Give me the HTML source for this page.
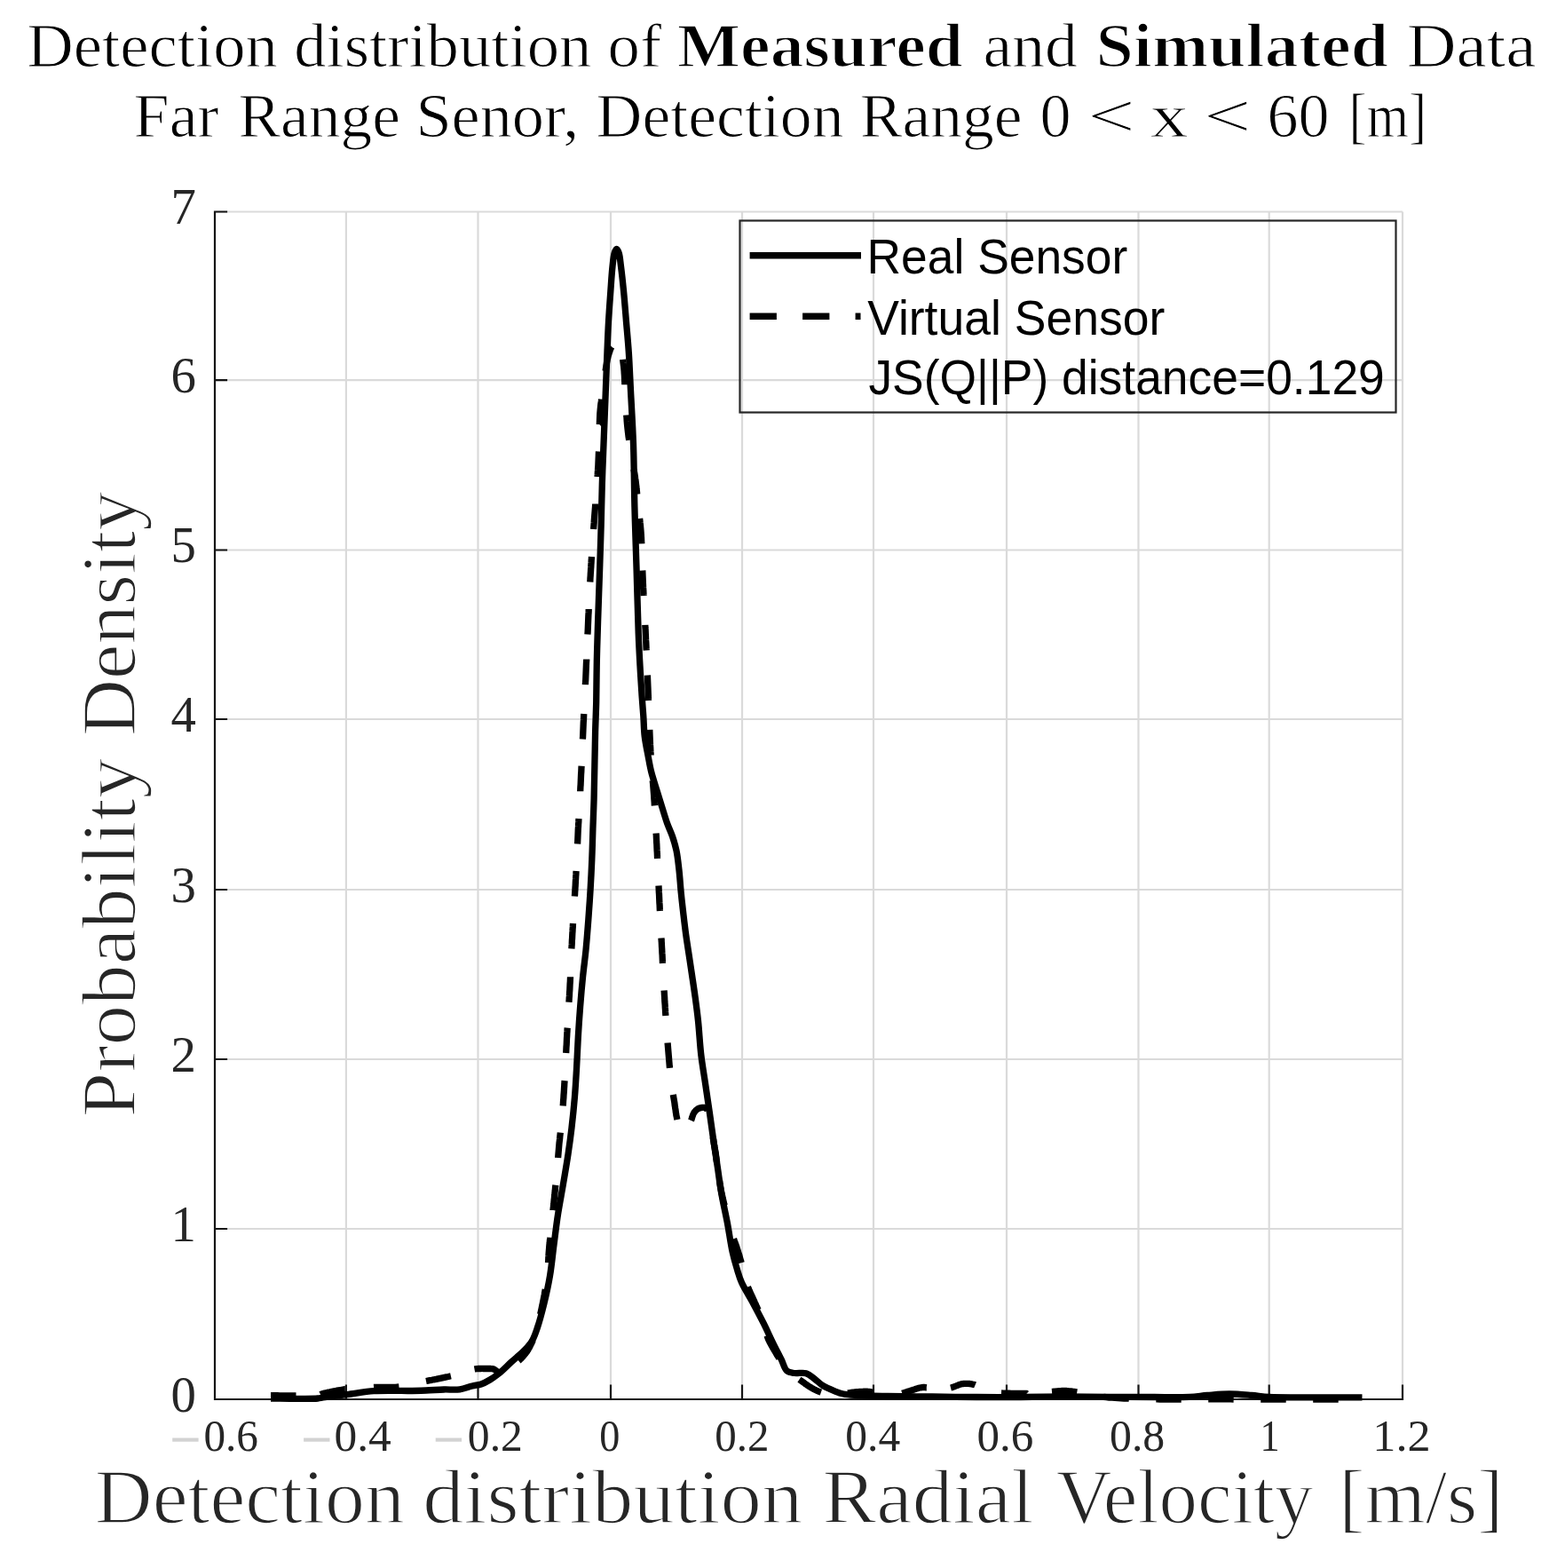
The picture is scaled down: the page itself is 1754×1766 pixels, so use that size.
<!DOCTYPE html><html><head><meta charset="utf-8"><title>Detection distribution</title><style>html,body{margin:0;padding:0;background:#fff;overflow:hidden}svg{display:block}</style></head><body>
<svg width="1754" height="1766" viewBox="0 0 1754 1766">
<rect width="1754" height="1766" fill="#fff"/>
<path d="M389.9 238.5V1576.0M538.5 238.5V1576.0M688.0 238.5V1576.0M836.0 238.5V1576.0M984.0 238.5V1576.0M1134.0 238.5V1576.0M1282.5 238.5V1576.0M1429.7 238.5V1576.0M1580.0 238.5V1576.0M242.0 1384.0H1580.0M242.0 1193.0H1580.0M242.0 1002.0H1580.0M242.0 810.0H1580.0M242.0 619.5H1580.0M242.0 428.1H1580.0M242.0 238.5H1580.0" stroke="#262626" stroke-opacity="0.17" stroke-width="2.2" fill="none"/>
<path d="M242.0 238.5V1576.0H1580.0M242.0 1576.0V1560.5M389.9 1576.0V1560.5M538.5 1576.0V1560.5M688.0 1576.0V1560.5M836.0 1576.0V1560.5M984.0 1576.0V1560.5M1134.0 1576.0V1560.5M1282.5 1576.0V1560.5M1429.7 1576.0V1560.5M1580.0 1576.0V1560.5M242.0 1576.0H255M242.0 1384.0H255M242.0 1193.0H255M242.0 1002.0H255M242.0 810.0H255M242.0 619.5H255M242.0 428.1H255M242.0 238.5H255" stroke="#151515" stroke-width="2.2" fill="none" stroke-linecap="square"/>
<path d="M305.0,1571.7L307.5,1571.7 310.0,1571.7 312.6,1571.7 315.1,1571.8 317.7,1571.8 320.2,1571.8 322.8,1571.8 325.3,1571.8 327.8,1571.8 330.2,1571.8 332.6,1571.8 333.5,1571.8M360.9,1570.6L361.0,1570.6 361.4,1570.4 361.8,1570.2 362.3,1570.1 362.8,1569.9 363.4,1569.7 364.0,1569.5 365.6,1569.1 367.3,1568.7 369.3,1568.2 371.5,1567.8 373.8,1567.3 376.2,1566.8 378.6,1566.4 381.2,1565.9 383.7,1565.5 386.2,1565.1 388.6,1564.7 388.8,1564.7M421.0,1562.5L421.0,1562.5 423.4,1562.4 425.9,1562.4 428.4,1562.4 431.0,1562.4 433.5,1562.5 436.0,1562.5 438.4,1562.5 440.8,1562.5 443.2,1562.5 445.5,1562.4 447.6,1562.2 449.5,1562.0M480.0,1555.5L482.0,1555.1 484.2,1554.7 486.4,1554.3 488.8,1553.8 491.2,1553.4 493.6,1552.9 496.0,1552.4 498.4,1551.9 500.7,1551.4 502.9,1550.9 505.0,1550.5 507.0,1550.0 507.9,1549.8M534.5,1542.0L534.5,1542.0 535.6,1541.8 536.8,1541.7 537.9,1541.6 539.1,1541.5 540.3,1541.5 541.5,1541.5 542.6,1541.4 543.8,1541.4 544.9,1541.5 546.0,1541.5 547.0,1541.5 548.0,1541.5 548.7,1541.5 549.5,1541.5 550.2,1541.5 550.9,1541.5 551.6,1541.5 552.2,1541.5 552.9,1541.5 553.5,1541.6 554.2,1541.6 554.8,1541.7 555.4,1541.8 556.0,1542.0 556.5,1542.2 557.1,1542.5 557.6,1542.8 558.1,1543.2 558.5,1543.5 559.0,1543.9 559.5,1544.3 560.0,1544.6 560.4,1544.9 560.9,1545.2 561.5,1545.4 561.9,1545.5M584.2,1532.6L584.8,1532.1 585.5,1531.5 586.1,1530.9 586.8,1530.3 587.4,1529.6 588.0,1529.0 588.6,1528.3 589.3,1527.6 589.9,1526.9 590.5,1526.2 591.1,1525.5 591.6,1524.8 592.2,1524.1 592.8,1523.3 593.4,1522.5 593.9,1521.7 594.5,1520.9 595.0,1520.0 595.6,1518.9 596.3,1517.8 596.9,1516.6 597.5,1515.4 598.1,1514.2 598.7,1513.0 599.3,1511.7 599.9,1510.4 600.3,1509.4M608.7,1480.1L608.8,1479.4 609.3,1477.5 609.7,1475.6 610.1,1473.7 610.5,1471.7 610.9,1469.8 611.3,1467.9 611.7,1465.9 612.1,1464.0 612.5,1462.0 612.9,1460.0 613.3,1457.9 613.6,1455.9 614.0,1453.8 614.3,1452.2M617.6,1422.1L617.7,1419.6 617.8,1417.1 618.0,1414.5 618.1,1412.0 618.3,1409.5 618.5,1407.0 618.7,1404.6 618.9,1402.1 619.2,1399.7 619.4,1397.3 619.7,1394.9 619.8,1393.7M623.0,1363.1L623.0,1363.0 623.3,1360.5 623.5,1358.0 623.8,1355.5 624.0,1353.0 624.3,1350.5 624.5,1348.0 624.8,1345.5 625.0,1343.0 625.3,1340.5 625.5,1338.0 625.8,1335.4 625.9,1334.7M628.6,1304.0L628.6,1304.0 628.8,1301.7 629.0,1299.4 629.2,1297.0 629.4,1294.7 629.6,1292.4 629.8,1290.0 630.0,1287.5 630.3,1285.1 630.6,1282.6 630.8,1280.1 631.1,1277.5 631.3,1275.7M634.2,1245.5L634.4,1243.1 634.5,1240.7 634.7,1238.3 634.9,1235.9 635.0,1233.4 635.2,1231.0 635.4,1228.4 635.5,1225.9 635.7,1223.3 635.8,1220.7 636.0,1218.1 636.1,1217.1M637.7,1186.0L637.8,1183.7 637.9,1181.4 638.0,1179.1 638.2,1176.8 638.3,1174.4 638.4,1172.0 638.5,1169.4 638.7,1166.8 638.8,1164.1 639.0,1161.4 639.1,1158.7 639.2,1157.6M640.9,1128.7L640.9,1128.7 641.1,1126.4 641.2,1124.2 641.4,1122.0 641.5,1119.8 641.6,1117.6 641.8,1115.3 641.9,1113.0 642.0,1110.6 642.1,1108.1 642.3,1105.6 642.4,1103.1 642.5,1100.6 642.5,1100.2M643.9,1068.5L644.0,1066.1 644.2,1063.7 644.3,1061.3 644.4,1058.9 644.6,1056.4 644.7,1054.0 644.8,1051.5 645.0,1049.0 645.1,1046.5 645.3,1044.0 645.4,1041.5 645.5,1040.0M647.4,1009.5L647.6,1007.1 647.7,1004.7 647.9,1002.3 648.0,999.9 648.2,997.4 648.3,995.0 648.4,992.5 648.6,990.0 648.7,987.5 648.9,985.0 649.0,982.5 649.1,981.0M650.6,950.5L650.7,948.1 650.8,945.7 650.9,943.3 651.0,940.9 651.1,938.4 651.2,936.0 651.3,933.5 651.5,931.0 651.6,928.5 651.8,926.0 651.9,923.5 652.0,922.0M653.7,891.3L653.7,891.2 653.8,888.8 653.9,886.3 654.1,883.9 654.2,881.4 654.3,879.0 654.4,876.5 654.5,874.0 654.6,871.6 654.8,869.1 654.9,866.7 655.0,864.2 655.1,862.8M656.4,832.5L656.4,832.5 656.6,830.1 656.7,827.7 656.8,825.3 656.9,822.9 657.0,820.4 657.1,818.0 657.2,815.5 657.3,813.0 657.5,810.5 657.6,808.0 657.7,805.5 657.8,804.1M659.4,771.1L659.5,768.7 659.7,766.3 659.8,763.9 659.9,761.4 660.0,759.0 660.1,756.5 660.2,754.0 660.3,751.5 660.4,749.0 660.5,746.5 660.7,744.0 660.7,742.6M661.9,714.5L661.9,714.5 662.1,712.1 662.2,709.7 662.3,707.3 662.4,704.9 662.5,702.4 662.6,700.0 662.7,697.5 662.8,695.0 662.9,692.5 663.1,690.0 663.2,687.5 663.2,686.1M664.8,655.5L664.8,655.5 664.9,653.1 665.0,650.7 665.2,648.3 665.3,645.9 665.5,643.4 665.6,641.0 665.8,638.5 665.9,636.0 666.1,633.5 666.2,631.0 666.4,628.5 666.5,627.1M668.6,596.0L668.6,596.0 668.8,593.5 669.0,591.0 669.2,588.5 669.3,586.0 669.5,583.5 669.7,581.0 669.9,578.5 670.1,576.0 670.3,573.5 670.5,571.0 670.7,568.4 670.7,567.6M673.0,537.0L673.0,537.0 673.2,534.7 673.3,532.4 673.5,530.0 673.6,527.7 673.8,525.4 673.9,523.0 674.0,520.5 674.1,518.1 674.2,515.6 674.3,513.1 674.4,510.6 674.5,508.5M675.3,478.1L675.4,478.0 675.4,475.5 675.5,473.1 675.6,470.6 675.7,468.2 675.8,465.8 676.0,463.5 676.2,461.4 676.4,459.4 676.6,457.4 676.8,455.4 677.1,453.5 677.4,451.5 677.6,449.7M682.0,418.0L682.3,416.4 682.5,414.8 682.8,413.2 683.0,411.6 683.3,410.1 683.5,408.5 683.8,407.0 684.1,405.5 684.4,404.1 684.8,402.6 685.1,401.3 685.5,400.0 685.8,399.0 686.1,398.0 686.4,396.9 686.8,395.9 687.1,394.9 687.4,393.9 687.8,393.0 688.2,392.2 688.6,391.5 689.0,390.8 689.2,390.6M701.6,404.9L701.7,406.0 701.9,407.1 702.0,408.3 702.2,409.5 702.3,410.7 702.5,412.0 702.7,413.9 702.9,416.0 703.1,418.1 703.2,420.3 703.4,422.6 703.5,425.0 703.6,427.4 703.7,429.9 703.8,432.4 703.8,433.3M705.7,467.5L705.7,467.5 706.0,471.0 706.2,474.5 706.5,477.8 706.8,481.0 707.1,483.7 707.4,486.3 707.7,488.8 708.0,491.4 708.4,493.8 708.7,495.8M714.0,528.5L714.0,528.5 714.4,531.0 714.9,533.5 715.3,536.0 715.6,538.5 716.0,541.0 716.3,543.4 716.6,545.9 716.9,548.3 717.1,550.7 717.4,553.1 717.6,555.6 717.7,556.7M720.6,584.0L720.9,586.3 721.1,588.6 721.4,590.9 721.6,593.3 721.8,595.6 722.0,598.0 722.2,600.5 722.3,602.9 722.5,605.4 722.6,607.9 722.7,610.4 722.8,612.4M723.8,642.5L723.8,642.5 723.9,644.9 724.0,647.3 724.1,649.7 724.2,652.1 724.3,654.6 724.4,657.0 724.5,659.5 724.6,662.0 724.8,664.5 724.9,667.0 725.0,669.5 725.1,670.9M726.8,703.9L726.8,703.9 726.9,706.3 727.1,708.7 727.2,711.1 727.3,713.6 727.4,716.0 727.5,718.5 727.6,721.0 727.8,723.5 727.9,726.0 728.0,728.5 728.1,731.0 728.2,732.4M729.4,760.5L729.5,762.9 729.6,765.3 729.7,767.7 729.8,770.1 729.9,772.6 730.0,775.0 730.1,777.5 730.2,780.0 730.3,782.5 730.4,785.0 730.5,787.5 730.6,789.0M731.8,821.9L731.8,821.9 731.9,824.3 732.0,826.7 732.1,829.1 732.2,831.6 732.3,834.0 732.4,836.5 732.5,839.0 732.7,841.5 732.8,844.0 732.9,846.5 733.1,849.0 733.1,850.4M735.2,879.0L735.2,879.0 735.5,881.5 735.7,884.0 735.9,886.5 736.1,889.0 736.3,891.5 736.5,894.0 736.7,896.5 736.8,899.0 737.0,901.5 737.2,904.0 737.3,906.5 737.4,907.4M739.1,938.5L739.3,940.9 739.4,943.3 739.5,945.7 739.6,948.1 739.8,950.6 739.9,953.0 740.0,955.5 740.1,958.0 740.3,960.5 740.4,963.0 740.5,965.5 740.6,967.0M742.0,997.5L742.0,997.5 742.1,999.9 742.2,1002.3 742.3,1004.7 742.5,1007.1 742.6,1009.6 742.7,1012.0 742.8,1014.5 742.9,1017.0 743.1,1019.5 743.2,1022.0 743.3,1024.5 743.4,1025.9M745.0,1056.5L745.1,1058.9 745.3,1061.3 745.4,1063.7 745.5,1066.1 745.7,1068.6 745.8,1071.0 745.9,1073.5 746.1,1076.0 746.2,1078.5 746.3,1081.0 746.4,1083.5 746.5,1085.0M748.1,1115.5L748.3,1117.9 748.4,1120.3 748.6,1122.7 748.7,1125.1 748.8,1127.6 749.0,1130.0 749.2,1132.5 749.3,1135.0 749.5,1137.5 749.6,1140.0 749.8,1142.5 749.9,1144.0M752.1,1174.5L752.1,1174.5 752.3,1176.9 752.5,1179.4 752.7,1181.8 752.9,1184.2 753.1,1186.6 753.3,1189.0 753.5,1191.4 753.7,1193.9 753.9,1196.3 754.1,1198.8 754.3,1201.3 754.5,1202.9M758.3,1232.9L758.6,1234.7 758.9,1236.5 759.2,1238.2 759.5,1240.0 759.8,1241.6 760.0,1243.3 760.2,1245.0 760.5,1246.6 760.7,1248.3 761.0,1249.9 761.2,1251.5 761.4,1253.1 761.7,1254.7 761.9,1256.2 762.2,1257.6 762.5,1259.0 762.7,1260.0 762.9,1261.0M778.5,1262.0L778.5,1262.0 778.8,1261.3 779.1,1260.5 779.3,1259.7 779.6,1258.9 779.8,1258.1 780.1,1257.3 780.4,1256.5 780.6,1255.8 780.9,1255.0 781.3,1254.3 781.6,1253.6 782.0,1253.0 782.3,1252.5 782.7,1252.0 783.1,1251.6 783.4,1251.2 783.8,1250.7 784.2,1250.3 784.7,1250.0 785.1,1249.6 785.5,1249.3 786.0,1249.0 786.5,1248.7 787.0,1248.5 787.6,1248.3 788.2,1248.0 788.9,1247.8 789.6,1247.7 790.3,1247.5 791.0,1247.4 791.8,1247.3 792.5,1247.3 793.2,1247.4 793.8,1247.5 794.4,1247.7 795.0,1248.0 795.7,1248.6 796.3,1249.3 796.9,1250.2 797.2,1250.9M803.2,1280.7L803.3,1281.3 803.5,1283.0 803.7,1284.5 804.0,1286.1 804.2,1287.6 804.5,1289.1 804.8,1290.6 805.0,1292.1 805.3,1293.5 805.5,1295.0 805.8,1296.5 806.0,1298.0 806.3,1299.5 806.5,1301.0 806.7,1302.6 806.9,1304.1 807.1,1305.7 807.3,1307.2 807.5,1308.8 807.5,1308.9M810.5,1329.9L810.5,1329.9 810.8,1331.9 811.2,1334.0 811.5,1336.0 811.9,1338.1 812.2,1340.1 812.6,1342.1 813.0,1344.0 813.4,1345.8 813.8,1347.6 814.1,1349.3 814.6,1351.1 815.0,1352.8 815.4,1354.5 815.8,1356.3 816.2,1357.8M826.5,1395.2L826.5,1395.2 827.0,1396.6 827.5,1398.0 828.0,1399.3 828.5,1400.7 829.0,1402.1 829.5,1403.5 830.0,1405.0 830.5,1406.6 831.0,1408.2 831.5,1409.8 832.0,1411.5 832.6,1413.1 833.1,1414.8 833.5,1416.5 834.0,1418.2 834.5,1419.9 835.0,1421.6 835.2,1422.3M842.5,1449.4L842.5,1449.5 843.1,1450.9 843.6,1452.2 844.2,1453.6 844.8,1454.9 845.4,1456.2 846.0,1457.5 846.6,1458.8 847.2,1460.1 847.8,1461.4 848.4,1462.7 849.0,1464.0 849.6,1465.3 850.2,1466.7 850.8,1468.0 851.4,1469.4 852.0,1470.7 852.6,1472.1 853.2,1473.4 853.8,1474.8 854.1,1475.5M864.0,1504.2L864.2,1504.7 864.6,1505.8 865.0,1507.0 865.5,1508.3 866.1,1509.5 866.7,1510.8 867.3,1512.0 868.0,1513.3 868.7,1514.6 869.4,1515.8 870.1,1517.1 870.8,1518.3 871.6,1519.6 872.3,1520.8 873.0,1522.0 873.7,1523.2 874.4,1524.4 875.1,1525.6 875.8,1526.8 876.6,1528.0 877.3,1529.2 877.4,1529.3M900.4,1553.7L901.3,1554.3 902.1,1554.9 903.0,1555.5 903.9,1556.1 904.8,1556.8 905.7,1557.4 906.6,1558.1 907.5,1558.8 908.5,1559.4 909.4,1560.1 910.3,1560.7 911.2,1561.3 912.2,1561.9 913.1,1562.5 914.0,1563.0 914.8,1563.5 915.6,1563.9 916.4,1564.4 917.2,1564.8 918.0,1565.2 918.8,1565.6 919.6,1566.0 920.5,1566.4 921.3,1566.8 922.2,1567.1 923.1,1567.5 924.0,1567.8 924.9,1568.1M955.0,1569.0L956.1,1568.8 957.2,1568.7 958.3,1568.5 959.4,1568.4 960.5,1568.2 961.6,1568.1 962.7,1568.0 963.7,1567.9 964.8,1567.7 965.9,1567.7 966.9,1567.6 968.0,1567.5 969.0,1567.4 970.0,1567.4 971.0,1567.3 972.0,1567.3 973.0,1567.2 974.0,1567.2 974.9,1567.2 975.9,1567.2 976.9,1567.2 977.9,1567.3 979.0,1567.4 980.0,1567.5 981.2,1567.7 982.4,1568.0 983.3,1568.3M1016.3,1569.3L1017.5,1568.9 1018.8,1568.5 1020.0,1568.1 1021.3,1567.7 1022.5,1567.3 1023.7,1566.9 1025.0,1566.5 1026.2,1566.1 1027.5,1565.7 1028.7,1565.3 1030.0,1564.9 1031.2,1564.5 1032.5,1564.1 1033.7,1563.7 1035.0,1563.3 1036.2,1563.0 1037.5,1562.8 1038.7,1562.6 1040.0,1562.5 1041.2,1562.5 1042.5,1562.6 1043.7,1562.8 1043.8,1562.8M1071.0,1563.0L1071.0,1563.0 1072.2,1562.7 1073.4,1562.3 1074.6,1561.9 1075.7,1561.5 1076.9,1561.0 1078.1,1560.5 1079.2,1560.1 1080.4,1559.6 1081.5,1559.3 1082.7,1558.9 1083.8,1558.7 1085.0,1558.5 1086.2,1558.4 1087.3,1558.3 1088.5,1558.3 1089.7,1558.3 1090.9,1558.4 1092.1,1558.5 1093.3,1558.6 1094.4,1558.8 1095.6,1559.1 1096.7,1559.3 1097.9,1559.6 1098.6,1559.9M1128.0,1569.0L1130.0,1569.1 1132.2,1569.1 1134.4,1569.2 1136.8,1569.2 1139.1,1569.3 1141.6,1569.3 1144.0,1569.3 1146.3,1569.4 1148.6,1569.4 1150.9,1569.4 1153.0,1569.5 1155.0,1569.5 1156.4,1569.5 1156.5,1569.6M1185.0,1567.5L1185.0,1567.5 1186.2,1567.4 1187.5,1567.2 1188.8,1567.1 1190.0,1567.0 1191.3,1566.8 1192.5,1566.7 1193.8,1566.7 1195.0,1566.6 1196.3,1566.5 1197.5,1566.5 1198.8,1566.5 1200.0,1566.5 1201.2,1566.5 1202.3,1566.6 1203.4,1566.7 1204.5,1566.8 1205.7,1566.9 1206.8,1567.0 1207.9,1567.1 1209.0,1567.3 1210.2,1567.4 1211.4,1567.6 1212.7,1567.8 1213.3,1567.9M1243.3,1573.4L1246.2,1573.7 1249.4,1574.0 1252.7,1574.2 1256.0,1574.4 1259.4,1574.6 1262.9,1574.8 1266.3,1575.0 1269.8,1575.1 1271.8,1575.2M1302.3,1575.9L1303.3,1575.9 1306.7,1576.0 1310.0,1576.0 1313.3,1576.0 1316.7,1576.0 1320.0,1576.0 1323.3,1576.0 1326.7,1576.0 1330.0,1576.0 1330.7,1576.0M1361.2,1575.8L1363.3,1575.8 1366.6,1575.8 1369.9,1575.8 1373.2,1575.8 1376.4,1575.9 1379.7,1575.9 1383.0,1575.9 1386.3,1575.9 1389.7,1576.0 1389.7,1576.0M1420.2,1576.0L1420.4,1576.0 1424.7,1576.0 1428.9,1576.0 1433.1,1576.0 1437.4,1576.0 1441.6,1576.0 1445.8,1576.0 1448.7,1576.0M1479.2,1576.0L1479.8,1576.0 1484.0,1576.0 1488.2,1576.0 1492.2,1576.0 1496.2,1576.0 1500.0,1576.0 1503.1,1576.0 1506.1,1576.0 1507.7,1576.0" stroke="#000" stroke-width="7.3" fill="none" stroke-linejoin="round"/>
<path d="M305.00,1575.00C315.00,1575.10 325.66,1575.31 335.00,1575.30C343.18,1575.29 352.83,1575.46 358.00,1575.00C360.66,1574.76 361.28,1574.40 364.00,1574.00C369.76,1573.16 381.76,1571.78 391.00,1570.60C400.74,1569.35 411.54,1567.39 421.00,1566.70C429.43,1566.08 437.94,1566.31 445.00,1566.30C450.58,1566.29 454.64,1566.53 460.00,1566.50C466.19,1566.46 473.33,1566.25 480.00,1566.00C486.67,1565.75 493.51,1565.20 500.00,1565.00C506.16,1564.81 512.42,1565.58 518.00,1564.80C523.01,1564.10 527.71,1562.01 532.00,1561.00C535.60,1560.15 538.74,1560.12 542.00,1559.00C545.41,1557.83 548.74,1555.94 552.00,1554.00C555.41,1551.97 558.49,1549.84 562.00,1547.00C566.39,1543.45 571.20,1538.40 576.00,1534.00C581.02,1529.40 587.32,1524.44 591.50,1520.00C594.77,1516.53 597.25,1513.86 599.50,1510.00C602.03,1505.66 603.54,1500.79 605.50,1495.00C608.08,1487.37 610.72,1477.35 613.00,1468.00C615.42,1458.06 617.70,1447.68 619.50,1437.00C621.40,1425.72 622.49,1413.58 624.00,1402.00C625.49,1390.58 626.77,1379.32 628.50,1368.00C630.24,1356.65 632.48,1345.34 634.40,1334.00C636.32,1322.67 638.36,1310.99 640.00,1300.00C641.53,1289.70 642.80,1280.32 644.00,1270.00C645.28,1259.03 646.47,1247.34 647.40,1236.00C648.33,1224.67 648.95,1213.34 649.60,1202.00C650.25,1190.67 650.63,1179.33 651.30,1168.00C651.97,1156.66 652.72,1145.33 653.60,1134.00C654.48,1122.66 655.49,1110.97 656.60,1100.00C657.64,1089.68 658.99,1080.32 660.00,1070.00C661.07,1059.03 661.95,1047.34 662.80,1036.00C663.65,1024.67 664.43,1013.34 665.10,1002.00C665.77,990.67 666.33,979.34 666.80,968.00C667.27,956.67 667.52,945.33 667.90,934.00C668.28,922.67 668.73,913.56 669.10,900.00C669.66,879.81 670.07,844.79 670.60,824.60C670.95,811.04 671.42,802.75 671.70,790.60C672.02,776.58 671.98,760.40 672.30,745.30C672.62,730.20 673.08,716.41 673.60,700.00C674.21,680.48 675.16,655.42 675.80,635.90C676.34,619.49 676.78,605.70 677.20,590.60C677.62,575.50 677.83,560.40 678.30,545.30C678.77,530.20 679.39,515.95 680.00,500.00C680.68,482.16 681.51,461.37 682.20,443.30C682.83,426.74 683.40,410.13 684.00,395.70C684.50,383.67 684.87,373.72 685.50,362.60C686.14,351.29 687.01,339.27 687.80,328.40C688.52,318.49 689.11,307.96 690.00,300.00C690.65,294.20 691.06,288.47 692.20,285.00C692.86,282.99 693.77,280.51 694.60,280.50C695.44,280.49 696.49,282.97 697.20,285.00C698.42,288.46 698.74,294.20 699.50,300.00C700.54,307.96 701.64,318.49 702.60,328.40C703.65,339.26 704.55,351.20 705.50,362.60C706.45,374.00 707.50,384.73 708.30,396.80C709.20,410.35 709.71,424.42 710.50,440.00C711.43,458.36 712.77,479.15 713.50,500.00C714.29,522.67 714.30,547.34 714.90,571.00C715.50,594.67 716.38,618.33 717.10,642.00C717.82,665.67 718.42,693.16 719.20,713.00C719.76,727.33 720.33,737.93 721.00,750.00C721.64,761.58 722.40,773.82 723.10,784.00C723.67,792.30 724.28,799.06 724.80,806.60C725.32,814.16 725.31,821.76 726.20,829.30C727.10,836.89 728.88,844.99 730.20,852.00C731.34,858.08 732.09,862.97 733.60,869.00C735.36,876.04 738.28,884.67 740.40,891.60C742.21,897.51 743.72,902.33 745.50,908.00C747.41,914.10 749.38,921.08 751.50,927.00C753.41,932.33 755.76,936.87 757.50,942.00C759.27,947.20 760.79,952.20 762.00,958.00C763.39,964.71 764.14,972.35 765.00,980.00C765.93,988.29 766.45,997.46 767.30,1006.00C768.12,1014.32 769.06,1022.57 770.00,1030.60C770.90,1038.32 771.77,1045.75 772.80,1053.30C773.83,1060.85 775.07,1068.36 776.20,1075.90C777.33,1083.46 778.47,1090.97 779.60,1098.60C780.74,1106.34 781.90,1113.84 783.00,1122.00C784.20,1130.91 785.44,1139.94 786.50,1150.00C787.74,1161.69 788.39,1175.90 789.80,1188.00C791.10,1199.14 792.91,1209.17 794.50,1220.00C796.14,1231.16 797.89,1242.84 799.50,1254.00C801.06,1264.83 802.48,1275.60 804.00,1286.00C805.45,1295.91 806.95,1305.33 808.40,1315.00C809.85,1324.67 810.95,1333.97 812.70,1344.00C814.60,1354.91 817.41,1366.83 819.50,1378.00C821.53,1388.82 823.02,1400.62 825.10,1410.00C826.76,1417.49 828.63,1423.89 830.50,1430.00C832.11,1435.28 833.14,1439.31 835.50,1444.60C838.57,1451.48 844.09,1459.77 848.20,1467.40C852.28,1474.97 856.28,1482.57 860.10,1490.20C863.88,1497.77 867.48,1505.85 871.00,1513.00C874.16,1519.43 877.44,1525.66 880.20,1531.20C882.51,1535.83 883.56,1541.53 886.50,1544.00C888.81,1545.95 891.83,1546.02 895.00,1546.50C898.84,1547.08 904.15,1545.52 908.00,1546.70C911.62,1547.81 914.50,1550.73 917.60,1553.00C920.73,1555.29 923.20,1558.21 926.70,1560.40C930.67,1562.89 936.19,1565.12 940.40,1566.80C943.84,1568.17 946.40,1569.23 950.00,1570.00C954.40,1570.94 958.95,1571.11 965.00,1571.50C974.22,1572.09 987.29,1572.25 1000.00,1572.50C1015.18,1572.79 1033.33,1572.83 1050.00,1573.00C1066.67,1573.17 1083.33,1573.42 1100.00,1573.50C1116.67,1573.58 1133.33,1573.58 1150.00,1573.50C1166.67,1573.42 1183.33,1573.03 1200.00,1573.00C1216.67,1572.97 1233.33,1573.22 1250.00,1573.30C1266.67,1573.38 1284.26,1573.51 1300.00,1573.50C1314.08,1573.49 1328.96,1573.82 1340.00,1573.30C1347.82,1572.93 1352.96,1572.03 1360.00,1571.50C1367.86,1570.91 1376.67,1570.00 1385.00,1570.00C1393.33,1570.00 1402.14,1570.87 1410.00,1571.50C1417.04,1572.06 1421.82,1573.07 1430.00,1573.50C1442.90,1574.18 1462.97,1573.75 1480.00,1573.80C1497.78,1573.85 1516.33,1573.80 1534.50,1573.80" stroke="#000" stroke-width="7.3" fill="none" stroke-linejoin="round"/>
<rect x="833.5" y="248.5" width="739" height="216" fill="none" stroke="#262626" stroke-width="2.2"/>
<path d="M844.6 287.7H970" stroke="#000" stroke-width="7.5"/>
<path d="M844.6 356.3H969.5" stroke="#000" stroke-width="7.5" stroke-dasharray="30.3 29.2"/>
<text x="30.30" y="75.00" font-family="'Liberation Serif', serif" font-size="70.3" fill="#000" stroke="#fff" stroke-width="1.0" textLength="714.90" lengthAdjust="spacingAndGlyphs">Detection distribution of</text>
<text x="762.70" y="75.00" font-family="'Liberation Serif', serif" font-size="70.3" font-weight="bold" fill="#000" stroke="#fff" stroke-width="1.6" textLength="322.10" lengthAdjust="spacingAndGlyphs">Measured</text>
<text x="1107.40" y="75.00" font-family="'Liberation Serif', serif" font-size="70.3" fill="#000" stroke="#fff" stroke-width="1.0" textLength="106.50" lengthAdjust="spacingAndGlyphs">and</text>
<text x="1234.50" y="75.00" font-family="'Liberation Serif', serif" font-size="70.3" font-weight="bold" fill="#000" stroke="#fff" stroke-width="1.6" textLength="329.50" lengthAdjust="spacingAndGlyphs">Simulated</text>
<text x="1584.70" y="75.00" font-family="'Liberation Serif', serif" font-size="70.3" fill="#000" stroke="#fff" stroke-width="1.0" textLength="145.90" lengthAdjust="spacingAndGlyphs">Data</text>
<text x="150.60" y="153.60" font-family="'Liberation Serif', serif" font-size="70.3" fill="#000" stroke="#fff" stroke-width="1.0" textLength="96.00" lengthAdjust="spacingAndGlyphs">Far</text>
<text x="268.50" y="153.60" font-family="'Liberation Serif', serif" font-size="70.3" fill="#000" stroke="#fff" stroke-width="1.0" textLength="182.40" lengthAdjust="spacingAndGlyphs">Range</text>
<text x="468.40" y="153.60" font-family="'Liberation Serif', serif" font-size="70.3" fill="#000" stroke="#fff" stroke-width="1.0" textLength="183.90" lengthAdjust="spacingAndGlyphs">Senor,</text>
<text x="671.60" y="153.60" font-family="'Liberation Serif', serif" font-size="70.3" fill="#000" stroke="#fff" stroke-width="1.0" textLength="279.00" lengthAdjust="spacingAndGlyphs">Detection</text>
<text x="968.70" y="153.60" font-family="'Liberation Serif', serif" font-size="70.3" fill="#000" stroke="#fff" stroke-width="1.0" textLength="182.80" lengthAdjust="spacingAndGlyphs">Range</text>
<text x="1171.60" y="153.60" font-family="'Liberation Serif', serif" font-size="70.3" fill="#000" stroke="#fff" stroke-width="1.0" textLength="35.10" lengthAdjust="spacingAndGlyphs">0</text>
<text x="1225.20" y="153.60" font-family="'Liberation Serif', serif" font-size="70.3" fill="#000" stroke="#fff" stroke-width="1.0" textLength="53.50" lengthAdjust="spacingAndGlyphs">&lt;</text>
<text x="1295.70" y="153.60" font-family="'Liberation Serif', serif" font-size="70.3" fill="#000" stroke="#fff" stroke-width="1.0" textLength="42.90" lengthAdjust="spacingAndGlyphs">x</text>
<text x="1356.10" y="153.60" font-family="'Liberation Serif', serif" font-size="70.3" fill="#000" stroke="#fff" stroke-width="1.0" textLength="53.50" lengthAdjust="spacingAndGlyphs">&lt;</text>
<text x="1427.60" y="153.60" font-family="'Liberation Serif', serif" font-size="70.3" fill="#000" stroke="#fff" stroke-width="1.0" textLength="70.00" lengthAdjust="spacingAndGlyphs">60</text>
<text x="1519.50" y="153.60" font-family="'Liberation Serif', serif" font-size="70.3" fill="#000" stroke="#fff" stroke-width="1.0" textLength="87.60" lengthAdjust="spacingAndGlyphs">[m]</text>
<text x="106.80" y="1715.30" font-family="'Liberation Serif', serif" font-size="87.3" fill="#262626" stroke="#fff" stroke-width="1.6" textLength="349.00" lengthAdjust="spacingAndGlyphs">Detection</text>
<text x="476.20" y="1715.30" font-family="'Liberation Serif', serif" font-size="87.3" fill="#262626" stroke="#fff" stroke-width="1.6" textLength="428.20" lengthAdjust="spacingAndGlyphs">distribution</text>
<text x="926.50" y="1715.30" font-family="'Liberation Serif', serif" font-size="87.3" fill="#262626" stroke="#fff" stroke-width="1.6" textLength="238.00" lengthAdjust="spacingAndGlyphs">Radial</text>
<text x="1189.70" y="1715.30" font-family="'Liberation Serif', serif" font-size="87.3" fill="#262626" stroke="#fff" stroke-width="1.6" textLength="289.80" lengthAdjust="spacingAndGlyphs">Velocity</text>
<text x="1508.20" y="1715.30" font-family="'Liberation Serif', serif" font-size="87.3" fill="#262626" stroke="#fff" stroke-width="1.6" textLength="185.30" lengthAdjust="spacingAndGlyphs">[m/s]</text>
<text x="229.40" y="1634.00" font-family="'Liberation Serif', serif" font-size="50" fill="#262626" textLength="61.60" lengthAdjust="spacingAndGlyphs">0.6</text>
<text x="376.50" y="1634.00" font-family="'Liberation Serif', serif" font-size="50" fill="#262626" textLength="64.30" lengthAdjust="spacingAndGlyphs">0.4</text>
<text x="526.80" y="1634.00" font-family="'Liberation Serif', serif" font-size="50" fill="#262626" textLength="62.10" lengthAdjust="spacingAndGlyphs">0.2</text>
<text x="675.30" y="1634.00" font-family="'Liberation Serif', serif" font-size="50" fill="#262626" textLength="23.10" lengthAdjust="spacingAndGlyphs">0</text>
<text x="805.20" y="1634.00" font-family="'Liberation Serif', serif" font-size="50" fill="#262626" textLength="61.20" lengthAdjust="spacingAndGlyphs">0.2</text>
<text x="952.30" y="1634.00" font-family="'Liberation Serif', serif" font-size="50" fill="#262626" textLength="61.80" lengthAdjust="spacingAndGlyphs">0.4</text>
<text x="1100.50" y="1634.00" font-family="'Liberation Serif', serif" font-size="50" fill="#262626" textLength="63.80" lengthAdjust="spacingAndGlyphs">0.6</text>
<text x="1250.00" y="1634.00" font-family="'Liberation Serif', serif" font-size="50" fill="#262626" textLength="62.20" lengthAdjust="spacingAndGlyphs">0.8</text>
<text x="1419.60" y="1634.00" font-family="'Liberation Serif', serif" font-size="50" fill="#262626" textLength="22.10" lengthAdjust="spacingAndGlyphs">1</text>
<text x="1546.30" y="1634.00" font-family="'Liberation Serif', serif" font-size="50" fill="#262626" textLength="65.30" lengthAdjust="spacingAndGlyphs">1.2</text>
<text x="976.60" y="308.20" font-family="'Liberation Sans', Arial, sans-serif" font-size="56.2" fill="#000" textLength="293.60" lengthAdjust="spacingAndGlyphs">Real Sensor</text>
<text x="977.20" y="377.20" font-family="'Liberation Sans', Arial, sans-serif" font-size="56.2" fill="#000" textLength="335.10" lengthAdjust="spacingAndGlyphs">Virtual Sensor</text>
<text x="978.40" y="443.80" font-family="'Liberation Sans', Arial, sans-serif" font-size="56.2" fill="#000" textLength="581.40" lengthAdjust="spacingAndGlyphs">JS(Q||P) distance=0.129</text>
<g transform="rotate(-90)">
<text x="-1258.40" y="152.10" font-family="'Liberation Serif', serif" font-size="87.3" fill="#262626" stroke="#fff" stroke-width="1.6" textLength="404.70" lengthAdjust="spacingAndGlyphs">Probability</text>
<text x="-829.10" y="152.10" font-family="'Liberation Serif', serif" font-size="87.3" fill="#262626" stroke="#fff" stroke-width="1.6" textLength="275.70" lengthAdjust="spacingAndGlyphs">Density</text>
</g>
<path d="M194.2 1621.6h29.4" stroke="#d2d2d2" stroke-width="4.2"/>
<path d="M342.1 1621.6h29.4" stroke="#d2d2d2" stroke-width="4.2"/>
<path d="M490.7 1621.6h29.4" stroke="#d2d2d2" stroke-width="4.2"/>
<text x="221.00" y="1589.50" font-family="'Liberation Serif', serif" font-size="56.8" fill="#262626" text-anchor="end">0</text>
<text x="221.00" y="1397.50" font-family="'Liberation Serif', serif" font-size="56.8" fill="#262626" text-anchor="end">1</text>
<text x="221.00" y="1206.50" font-family="'Liberation Serif', serif" font-size="56.8" fill="#262626" text-anchor="end">2</text>
<text x="221.00" y="1015.50" font-family="'Liberation Serif', serif" font-size="56.8" fill="#262626" text-anchor="end">3</text>
<text x="221.00" y="823.50" font-family="'Liberation Serif', serif" font-size="56.8" fill="#262626" text-anchor="end">4</text>
<text x="221.00" y="633.00" font-family="'Liberation Serif', serif" font-size="56.8" fill="#262626" text-anchor="end">5</text>
<text x="221.00" y="441.60" font-family="'Liberation Serif', serif" font-size="56.8" fill="#262626" text-anchor="end">6</text>
<text x="221.00" y="252.00" font-family="'Liberation Serif', serif" font-size="56.8" fill="#262626" text-anchor="end">7</text>
</svg></body></html>
